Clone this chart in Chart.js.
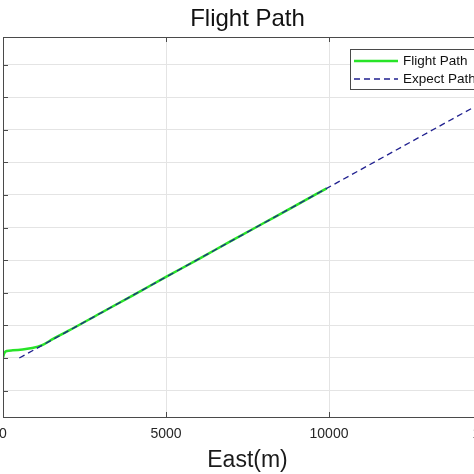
<!DOCTYPE html>
<html>
<head>
<meta charset="utf-8">
<script src="https://cdn.jsdelivr.net/npm/chart.js@4.4.1/dist/chart.umd.min.js"></script>
<style>
  html, body { margin: 0; padding: 0; width: 474px; height: 474px; overflow: hidden; background: #fff; }
  #wrap { position: absolute; left: -57px; top: 0; width: 609px; height: 474px; }
</style>
</head>
<body>
<div id="wrap"><canvas id="chart" width="609" height="474"></canvas></div>
<script>
const flightEast = [0, 40, 120, 300, 600, 900, 1200, 1550, 2000, 3000, 4000, 5000, 6000, 7000, 8000, 9000, 9930];
const flightNorth = [20, 150, 215, 235, 262, 305, 395, 595, 830, 1380, 1930, 2485, 3035, 3590, 4140, 4690, 5205];

const expectEast = [500, 15000];
const expectNorth = [0, 8000];

const xTicks = [0, 5000, 10000, 15000];
const yTicks = [-1000, 0, 1000, 2000, 3000, 4000, 5000, 6000, 7000, 8000, 9000];

const axisColor = "#4a4a4a";
const font = "'Liberation Sans', Arial, sans-serif";

const toPoints = (xs, ys) => xs.map((x, i) => ({ x: x, y: ys[i] }));

// box round the axes plus inward tick marks, like the original figure
const framePlugin = {
  id: "frame",
  afterDatasetsDraw(chart) {
    const { ctx, chartArea: a, scales } = chart;
    ctx.save();
    ctx.strokeStyle = axisColor;
    ctx.lineWidth = 1;
    ctx.beginPath();
    xTicks.forEach((v) => {
      const px = Math.round(scales.x.getPixelForValue(v)) + 0.5;
      ctx.moveTo(px, a.bottom); ctx.lineTo(px, a.bottom - 5);
      ctx.moveTo(px, a.top); ctx.lineTo(px, a.top + 5);
    });
    yTicks.forEach((v) => {
      const py = Math.round(scales.y.getPixelForValue(v)) + 0.5;
      ctx.moveTo(a.left, py); ctx.lineTo(a.left + 5, py);
      ctx.moveTo(a.right, py); ctx.lineTo(a.right - 5, py);
    });
    ctx.stroke();
    ctx.strokeRect(Math.round(a.left) + 0.5, Math.round(a.top) + 0.5,
      Math.round(a.right - a.left), Math.round(a.bottom - a.top));
    ctx.restore();
  },
};

const legendPlugin = {
  id: "boxLegend",
  afterDraw(chart) {
    const { ctx, chartArea: a } = chart;
    const w = 131, h = 40;
    const left = a.right - 11 - w, top = a.top + 12;
    ctx.save();
    ctx.fillStyle = "#fff";
    ctx.fillRect(left, top, w, h);
    ctx.strokeStyle = axisColor;
    ctx.lineWidth = 1;
    ctx.strokeRect(Math.round(left) + 0.5, Math.round(top) + 0.5, w, h);
    ctx.font = "13.5px " + font;
    ctx.textBaseline = "middle";
    ctx.fillStyle = "#111";
    const rows = [chart.data.datasets[0], chart.data.datasets[1]];
    rows.forEach((ds, i) => {
      const y = top + 12 + i * 18;
      ctx.beginPath();
      ctx.strokeStyle = ds.borderColor;
      ctx.lineWidth = ds.borderWidth;
      ctx.setLineDash(ds.borderDash || []);
      ctx.moveTo(left + 4, y);
      ctx.lineTo(left + 48, y);
      ctx.stroke();
      ctx.setLineDash([]);
      ctx.fillText(ds.label, left + 53, y + 0.5);
    });
    ctx.restore();
  },
};

new Chart(document.getElementById("chart"), {
  type: "line",
  data: {
    datasets: [
      {
        label: "Flight Path",
        data: toPoints(flightEast, flightNorth),
        borderColor: "rgb(40,228,40)",
        borderWidth: 2.5,
        pointRadius: 0,
        cubicInterpolationMode: "monotone",
        order: 1,
      },
      {
        label: "Expect Path",
        data: toPoints(expectEast, expectNorth),
        borderColor: "#20208f",
        borderWidth: 1.3,
        borderDash: [6, 4],
        pointRadius: 0,
        order: 0,
      },
    ],
  },
  options: {
    responsive: false,
    animation: false,
    layout: { padding: 0 },
    plugins: {
      legend: { display: false },
      tooltip: { enabled: false },
      title: {
        display: true,
        text: "Flight Path",
        color: "#111",
        font: { family: font, size: 24, weight: "normal" },
        padding: { top: 5, bottom: 3.2 },
      },
    },
    scales: {
      x: {
        type: "linear",
        min: 0,
        max: 15000,
        afterBuildTicks: (s) => { s.ticks = xTicks.map((v) => ({ value: v })); },
        afterFit: (s) => { s.height = 57; },
        ticks: {
          color: "#262626",
          padding: 9,
          maxRotation: 0,
          font: { family: font, size: 14 },
          callback: (v) => String(v),
        },
        grid: { color: "#e4e4e4", drawTicks: false },
        border: { display: false },
        title: {
          display: true,
          text: "East(m)",
          color: "#1a1a1a",
          font: { family: font, size: 23 },
          padding: { top: 0, bottom: 0 },
        },
      },
      y: {
        type: "linear",
        min: -1810,
        max: 9845,
        afterBuildTicks: (s) => { s.ticks = yTicks.map((v) => ({ value: v })); },
        afterFit: (s) => { s.width = 60; },
        ticks: {
          color: "#262626",
          padding: 6,
          font: { family: font, size: 14 },
          callback: (v) => String(v),
        },
        grid: { color: "#e4e4e4", drawTicks: false },
        border: { display: false },
      },
      // empty right-hand axis so the title sits over the middle of the plot
      y2: {
        type: "linear",
        position: "right",
        min: -1810,
        max: 9845,
        afterFit: (s) => { s.width = 60; },
        ticks: { display: false },
        grid: { display: false, drawTicks: false },
        border: { display: false },
      },
    },
  },
  plugins: [framePlugin, legendPlugin],
});
</script>
</body>
</html>
